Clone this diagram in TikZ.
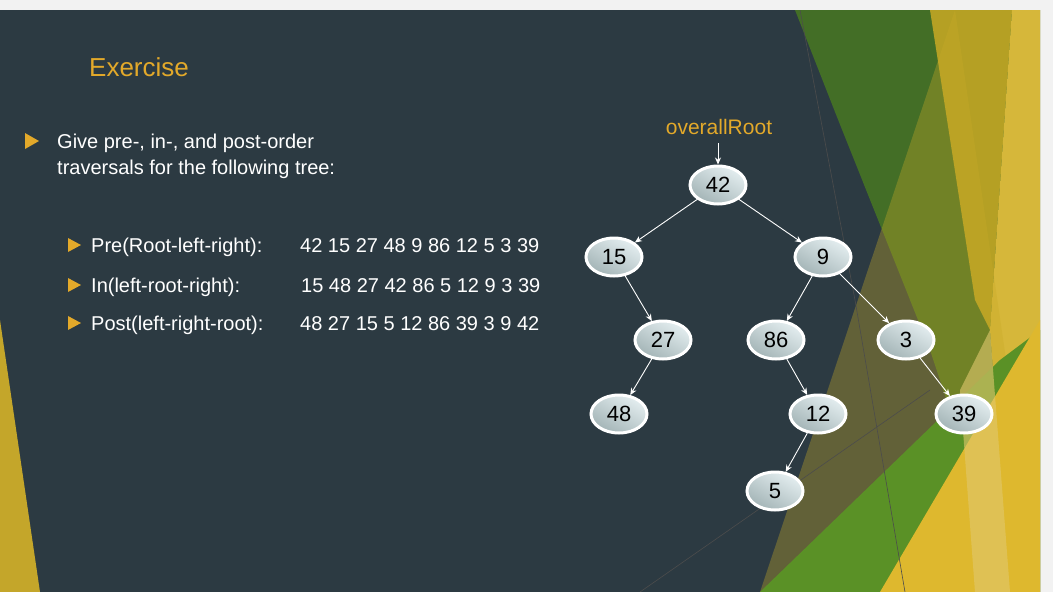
\documentclass[tikz,border=0pt]{standalone}
\usepackage{fontspec}
\setmainfont{Liberation Sans}
\usetikzlibrary{arrows.meta,shapes.geometric}
\definecolor{bg}{HTML}{2C3A42}
\definecolor{ttl}{HTML}{E3A92A}
\definecolor{lefty}{HTML}{C4A62A}
\definecolor{ttlA}{HTML}{E4EEF0}
\definecolor{ttlB}{HTML}{A3B4B6}
\tikzset{
 tn/.style={ellipse,minimum width=56pt,minimum height=38pt,inner sep=0pt,draw=white,line width=3pt,
   left color=ttlA,right color=ttlB,shading angle=-30,font=\fontsize{22}{24}\selectfont,text=black},
 ed/.style={draw=white,line width=0.9pt,-{Stealth[length=7pt,width=6pt]}},
 bul/.style={fill=ttl},
 txt/.style={text=white,font=\fontsize{20}{22}\selectfont,anchor=base west,inner sep=0pt}
}
\begin{document}
\begin{tikzpicture}[x=1pt,y=-1pt]
\useasboundingbox (0,0) rectangle (1053,592);
\fill[gray!10] (0,0) rectangle (1053,592);
\fill[bg] (0,10) rectangle (1040,592);
\begin{scope}
\clip (0,10) rectangle (1040,592);
\fill[lefty] (0,320) -- (40,592) -- (0,592) -- cycle;
\fill[color={rgb,255:red,67;green,110;blue,38}] (795,10) -- (1040,10) -- (1040,592) -- (1010,592) -- (930,350) -- (837,117) -- cycle;
\fill[color={rgb,255:red,181;green,160;blue,36}] (930,10) -- (1012,10) -- (990,330) -- (975,300) -- cycle;
\fill[color={rgb,255:red,214;green,183;blue,58}] (1012,10) -- (1040,10) -- (1040,592) -- (1010,592) -- (990,330) -- cycle;
\fill[color={rgb,255:red,200;green,170;blue,40},opacity=0.35] (955,10) -- (760,592) -- (1040,592) -- cycle;
\fill[color={rgb,255:red,90;green,145;blue,38}] (760,592) -- (1000,360) -- (1040,330) -- (1040,592) -- cycle;
\fill[color={rgb,255:red,222;green,184;blue,46}] (880,592) -- (1040,320) -- (1040,592) -- cycle;
\fill[color={rgb,255:red,225;green,200;blue,110},opacity=0.6] (990,330) -- (1010,592) -- (975,592) -- (960,390) -- cycle;
\draw[black!70,line width=0.6pt] (800,10) -- (855,300) -- (905,592);
\draw[black!70,line width=0.6pt] (640,592) -- (930,390);
\end{scope}
\node[text=ttl,font=\fontsize{26}{28}\selectfont,anchor=west,inner sep=0pt] (title) at (89,67) {Exercise};
\fill[bul] (25,133) -- (39,141) -- (25,149) -- cycle;
\node[txt] (l1) at (57,148) {Give pre-, in-, and post-order};
\node[txt] (l2) at (57,174) {traversals for the following tree:};
\foreach \y in {245,285,323}{\fill[bul] (68,\y-7) -- (81,\y) -- (68,\y+7) -- cycle;}
\node[txt] (p1) at (91,252) {Pre(Root-left-right):};
\node[txt] (p1v) at (300,252) {42 15 27 48 9 86 12 5 3 39};
\node[txt] (p2) at (91,292) {In(left-root-right):};
\node[txt] (p2v) at (301,292) {15 48 27 42 86 5 12 9 3 39};
\node[txt] (p3) at (91,330) {Post(left-right-root):};
\node[txt] (p3v) at (300,330) {48 27 15 5 12 86 39 3 9 42};
\node[text=ttl,font=\fontsize{21}{23}\selectfont,inner sep=0pt] (or) at (719,127) {overallRoot};
\node[tn] (n42) at (718,185) {42};
\node[tn] (n15) at (614,257) {15};
\node[tn] (n9) at (823,257) {9};
\node[tn] (n27) at (663,340) {27};
\node[tn] (n86) at (776,340) {86};
\node[tn] (n3) at (906,340) {3};
\node[tn] (n48) at (619,414) {48};
\node[tn] (n12) at (818,414) {12};
\node[tn] (n39) at (964,414) {39};
\node[tn] (n5) at (775,491) {5};
\coordinate (orb) at (718,143);
\draw[ed] (orb) -- (n42);
\draw[ed] (n42) -- (n15);
\draw[ed] (n42) -- (n9);
\draw[ed] (n15) -- (n27);
\draw[ed] (n27) -- (n48);
\draw[ed] (n9) -- (n86);
\draw[ed] (n9) -- (n3);
\draw[ed] (n86) -- (n12);
\draw[ed] (n12) -- (n5);
\draw[ed] (n3) -- (n39);
\end{tikzpicture}
\end{document}
